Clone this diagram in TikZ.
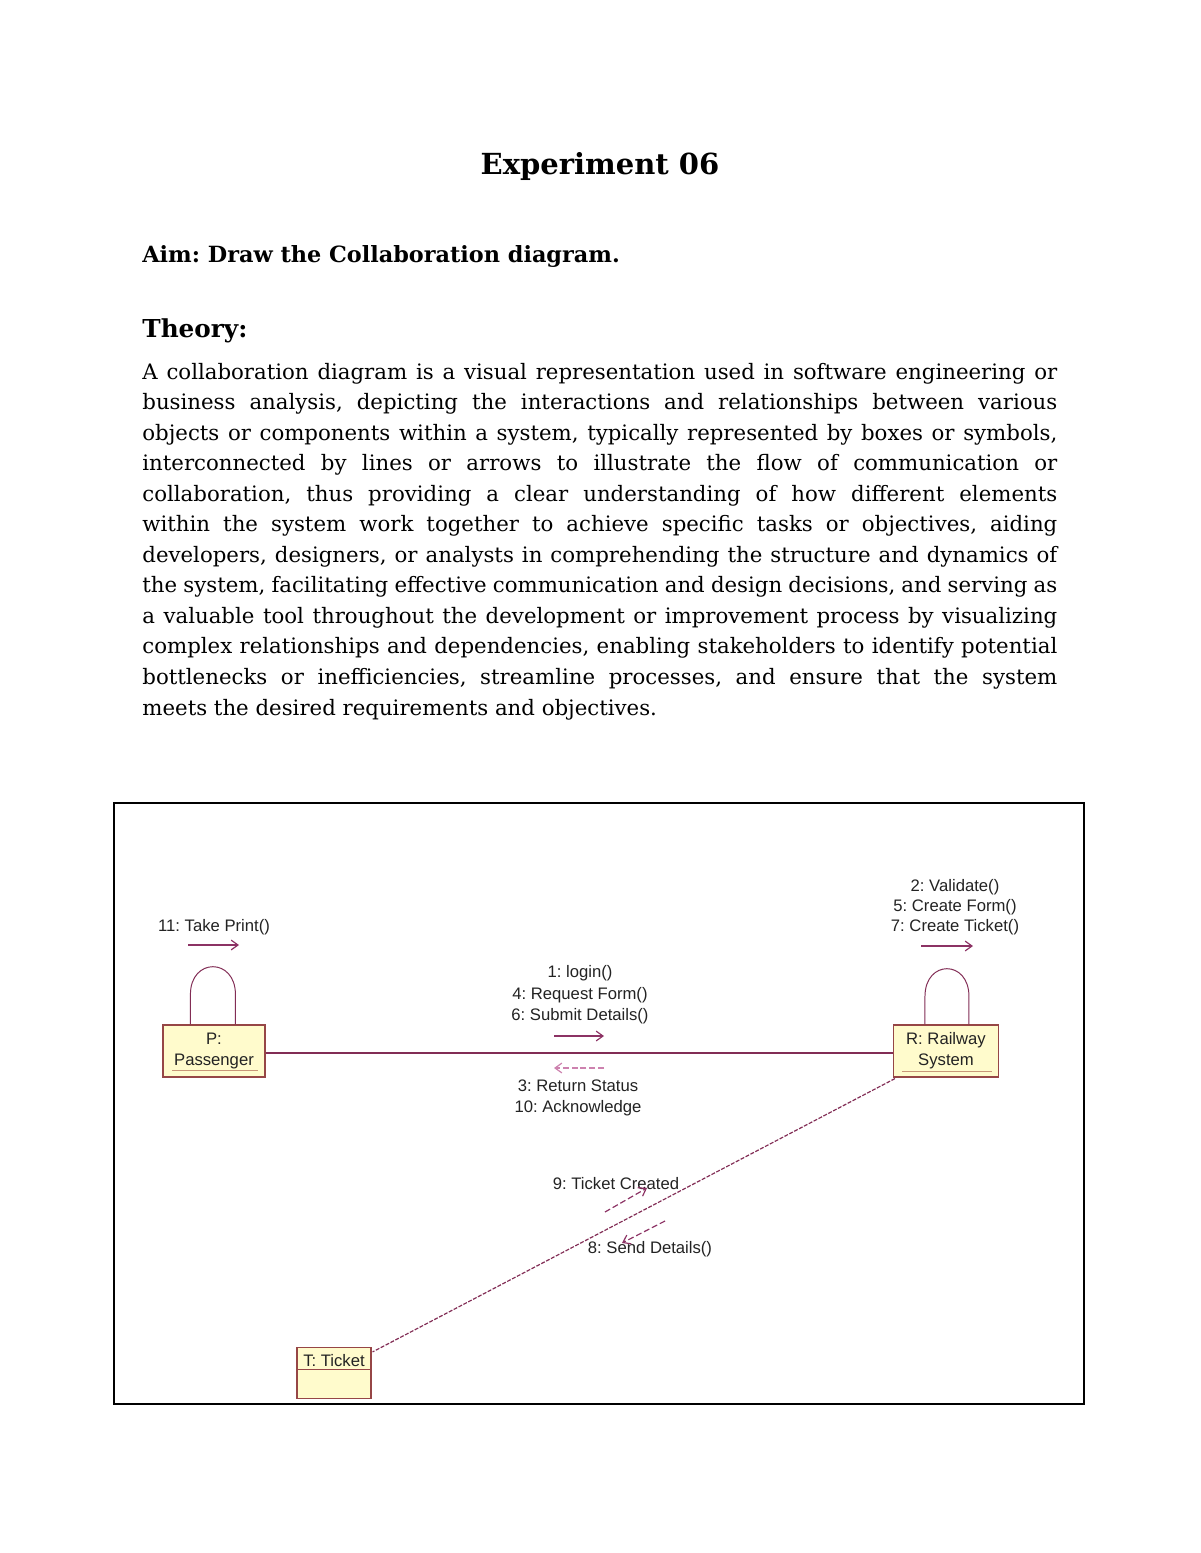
\documentclass[tikz,border=0pt]{standalone}
\usepackage{fontspec}
\setmainfont{DejaVu Serif}
\newfontfamily\diafont{Liberation Sans}
\usetikzlibrary{arrows.meta,calc}
\definecolor{boxfill}{RGB}{255,251,204}
\definecolor{boxline}{RGB}{150,70,70}
\definecolor{linkcol}{RGB}{130,45,85}
\definecolor{msgcol}{RGB}{140,50,100}
\definecolor{retcol}{RGB}{205,130,175}
\definecolor{diatext}{RGB}{35,35,35}
\definecolor{ulcol}{RGB}{200,150,120}
\newcommand\jline[1]{\hbox to 466.6pt{\spaceskip=0.32em plus 0.6em minus 0.16em\relax #1}}
\frenchspacing
\begin{document}
\frenchspacing
\begin{tikzpicture}[x=0.51pt,y=-0.51pt,
 objbox/.style={draw=boxline, fill=boxfill, line width=0.6pt, inner sep=0pt,
   font=\diafont\fontsize{8.5}{10.7}\selectfont, text=diatext, align=center},
 msg/.style={font=\diafont\fontsize{8.5}{10.4}\selectfont, text=diatext, align=center, inner sep=0pt},
 msgarrow/.style={draw=msgcol, line width=0.6pt, -{Straight Barb[length=3.5pt,width=5pt]}},
 retarrow/.style={msgarrow, draw=retcol, dash pattern=on 3pt off 1.5pt},
 link/.style={draw=linkcol, line width=0.6pt},
 dlink/.style={draw=linkcol, line width=0.6pt, dash pattern=on 2pt off 0.8pt},
 underl/.style={draw=ulcol, line width=0.4pt},
 bodyline/.style={anchor=base west, inner sep=0pt, font=\fontsize{10.85}{13}\selectfont},
 head/.style={inner sep=0pt, font=\bfseries}
]
\useasboundingbox[fill=white] (0,0) rectangle (1200,1553);

% ---------- headings ----------
\node[head, anchor=base, font=\bfseries\fontsize{14.8}{18}\selectfont] (title) at (600,175) {Experiment 06};
\node[head, anchor=base west, font=\bfseries\fontsize{11.4}{13}\selectfont] (aim) at (142,263) {Aim: Draw the Collaboration diagram.};
\node[head, anchor=base west, font=\bfseries\fontsize{12.6}{15}\selectfont] (theory) at (142,337) {Theory:};

% ---------- paragraph ----------
\node[bodyline] (l1) at (142,379.0) {\jline{A collaboration diagram is a visual representation used in software engineering or}};
\node[bodyline] (l2) at (142,409.5) {\jline{business analysis, depicting the interactions and relationships between various}};
\node[bodyline] (l3) at (142,440.1) {\jline{objects or components within a system, typically represented by boxes or symbols,}};
\node[bodyline] (l4) at (142,470.6) {\jline{interconnected by lines or arrows to illustrate the flow of communication or}};
\node[bodyline] (l5) at (142,501.2) {\jline{collaboration, thus providing a clear understanding of how different elements}};
\node[bodyline] (l6) at (142,531.7) {\jline{within the system work together to achieve specific tasks or objectives, aiding}};
\node[bodyline] (l7) at (142,562.3) {\jline{developers, designers, or analysts in comprehending the structure and dynamics of}};
\node[bodyline] (l8) at (142,592.8) {\jline{the system, facilitating effective communication and design decisions, and serving as}};
\node[bodyline] (l9) at (142,623.4) {\jline{a valuable tool throughout the development or improvement process by visualizing}};
\node[bodyline] (l10) at (142,653.9) {\jline{complex relationships and dependencies, enabling stakeholders to identify potential}};
\node[bodyline] (l11) at (142,684.5) {\jline{bottlenecks or inefficiencies, streamline processes, and ensure that the system}};
\node[bodyline] (l12) at (142,715.0) {meets the desired requirements and objectives.};

% ---------- diagram frame ----------
\draw[black, line width=1.1pt] (114,803) rectangle (1084,1404);

% ---------- objects ----------
\node[objbox, minimum width=52pt, minimum height=26.5pt] (P) at (214,1051) {P:\\Passenger};
\node[objbox, minimum width=53.5pt, minimum height=26.5pt] (R) at (946,1051) {R: Railway\\System};
\node[objbox, minimum width=37.7pt, minimum height=26pt] (T) at (334,1373) {};
\node[msg, anchor=north] (Tlab) at ($(T.north)+(0,7)$) {T: Ticket};

\draw[underl] ($(P.south west)+(10,-7)$) -- ($(P.south east)+(-8,-7)$);
\draw[underl] ($(R.south west)+(9,-6)$) -- ($(R.south east)+(-7,-6)$);
\draw[underl, draw=boxline] ($(T.north west)+(2,22)$) -- ($(T.north east)+(-2,22)$);

% ---------- links ----------
\draw[link] ($(P.east)+(0,2)$) -- ($(R.west)+(0,2)$);
\draw[dlink] ($(R.south west)+(2,1)$) -- ($(T.north east)+(1,5)$);

% ---------- self loops ----------
\draw[link, line width=0.5pt] ($(P.north west)+(28,0)$) -- ++(0,-30)
   .. controls ++(0,-37) and ($(P.north west)+(73,-67)$) .. ($(P.north west)+(73,-30)$) -- ($(P.north west)+(73,0)$);
\draw[link, line width=0.5pt] ($(R.north west)+(32,0)$) -- ++(0,-28)
   .. controls ++(0,-37) and ($(R.north west)+(76,-65)$) .. ($(R.north west)+(76,-28)$) -- ($(R.north west)+(76,0)$);

% ---------- messages ----------
\node[msg] (mTake) at (214,927) {11: Take Print()};
\coordinate (aTakeS) at (188,945); \coordinate (aTakeE) at (239,945);
\draw[msgarrow] (aTakeS) -- (aTakeE);

\node[msg, font=\diafont\fontsize{8.5}{10.2}\selectfont] (mVal) at (955,907) {2: Validate()\\5: Create Form()\\7: Create Ticket()};
\coordinate (aValS) at (921,946); \coordinate (aValE) at (973,946);
\draw[msgarrow] (aValS) -- (aValE);

\node[msg, font=\diafont\fontsize{8.5}{10.9}\selectfont] (mLogin) at (580,995) {1: login()\\4: Request Form()\\6: Submit Details()};
\coordinate (aLogS) at (554,1036); \coordinate (aLogE) at (604,1036);
\draw[msgarrow] (aLogS) -- (aLogE);

\coordinate (aRetS) at (604,1068); \coordinate (aRetE) at (554,1068);
\draw[retarrow] (aRetS) -- (aRetE);
\node[msg, font=\diafont\fontsize{8.5}{10.7}\selectfont] (mRet) at (578,1098) {3: Return Status\\10: Acknowledge};

\node[msg] (mCreated) at (616,1184) {9: Ticket Created};
\coordinate (aCrS) at (605,1212); \coordinate (aCrE) at (647,1188);
\draw[retarrow, draw=msgcol] (aCrS) -- (aCrE);

\node[msg] (mSend) at (650,1249) {8: Send Details()};
\coordinate (aSdS) at (665,1221); \coordinate (aSdE) at (622,1243);
\draw[retarrow, draw=msgcol] (aSdS) -- (aSdE);
\end{tikzpicture}
\end{document}
